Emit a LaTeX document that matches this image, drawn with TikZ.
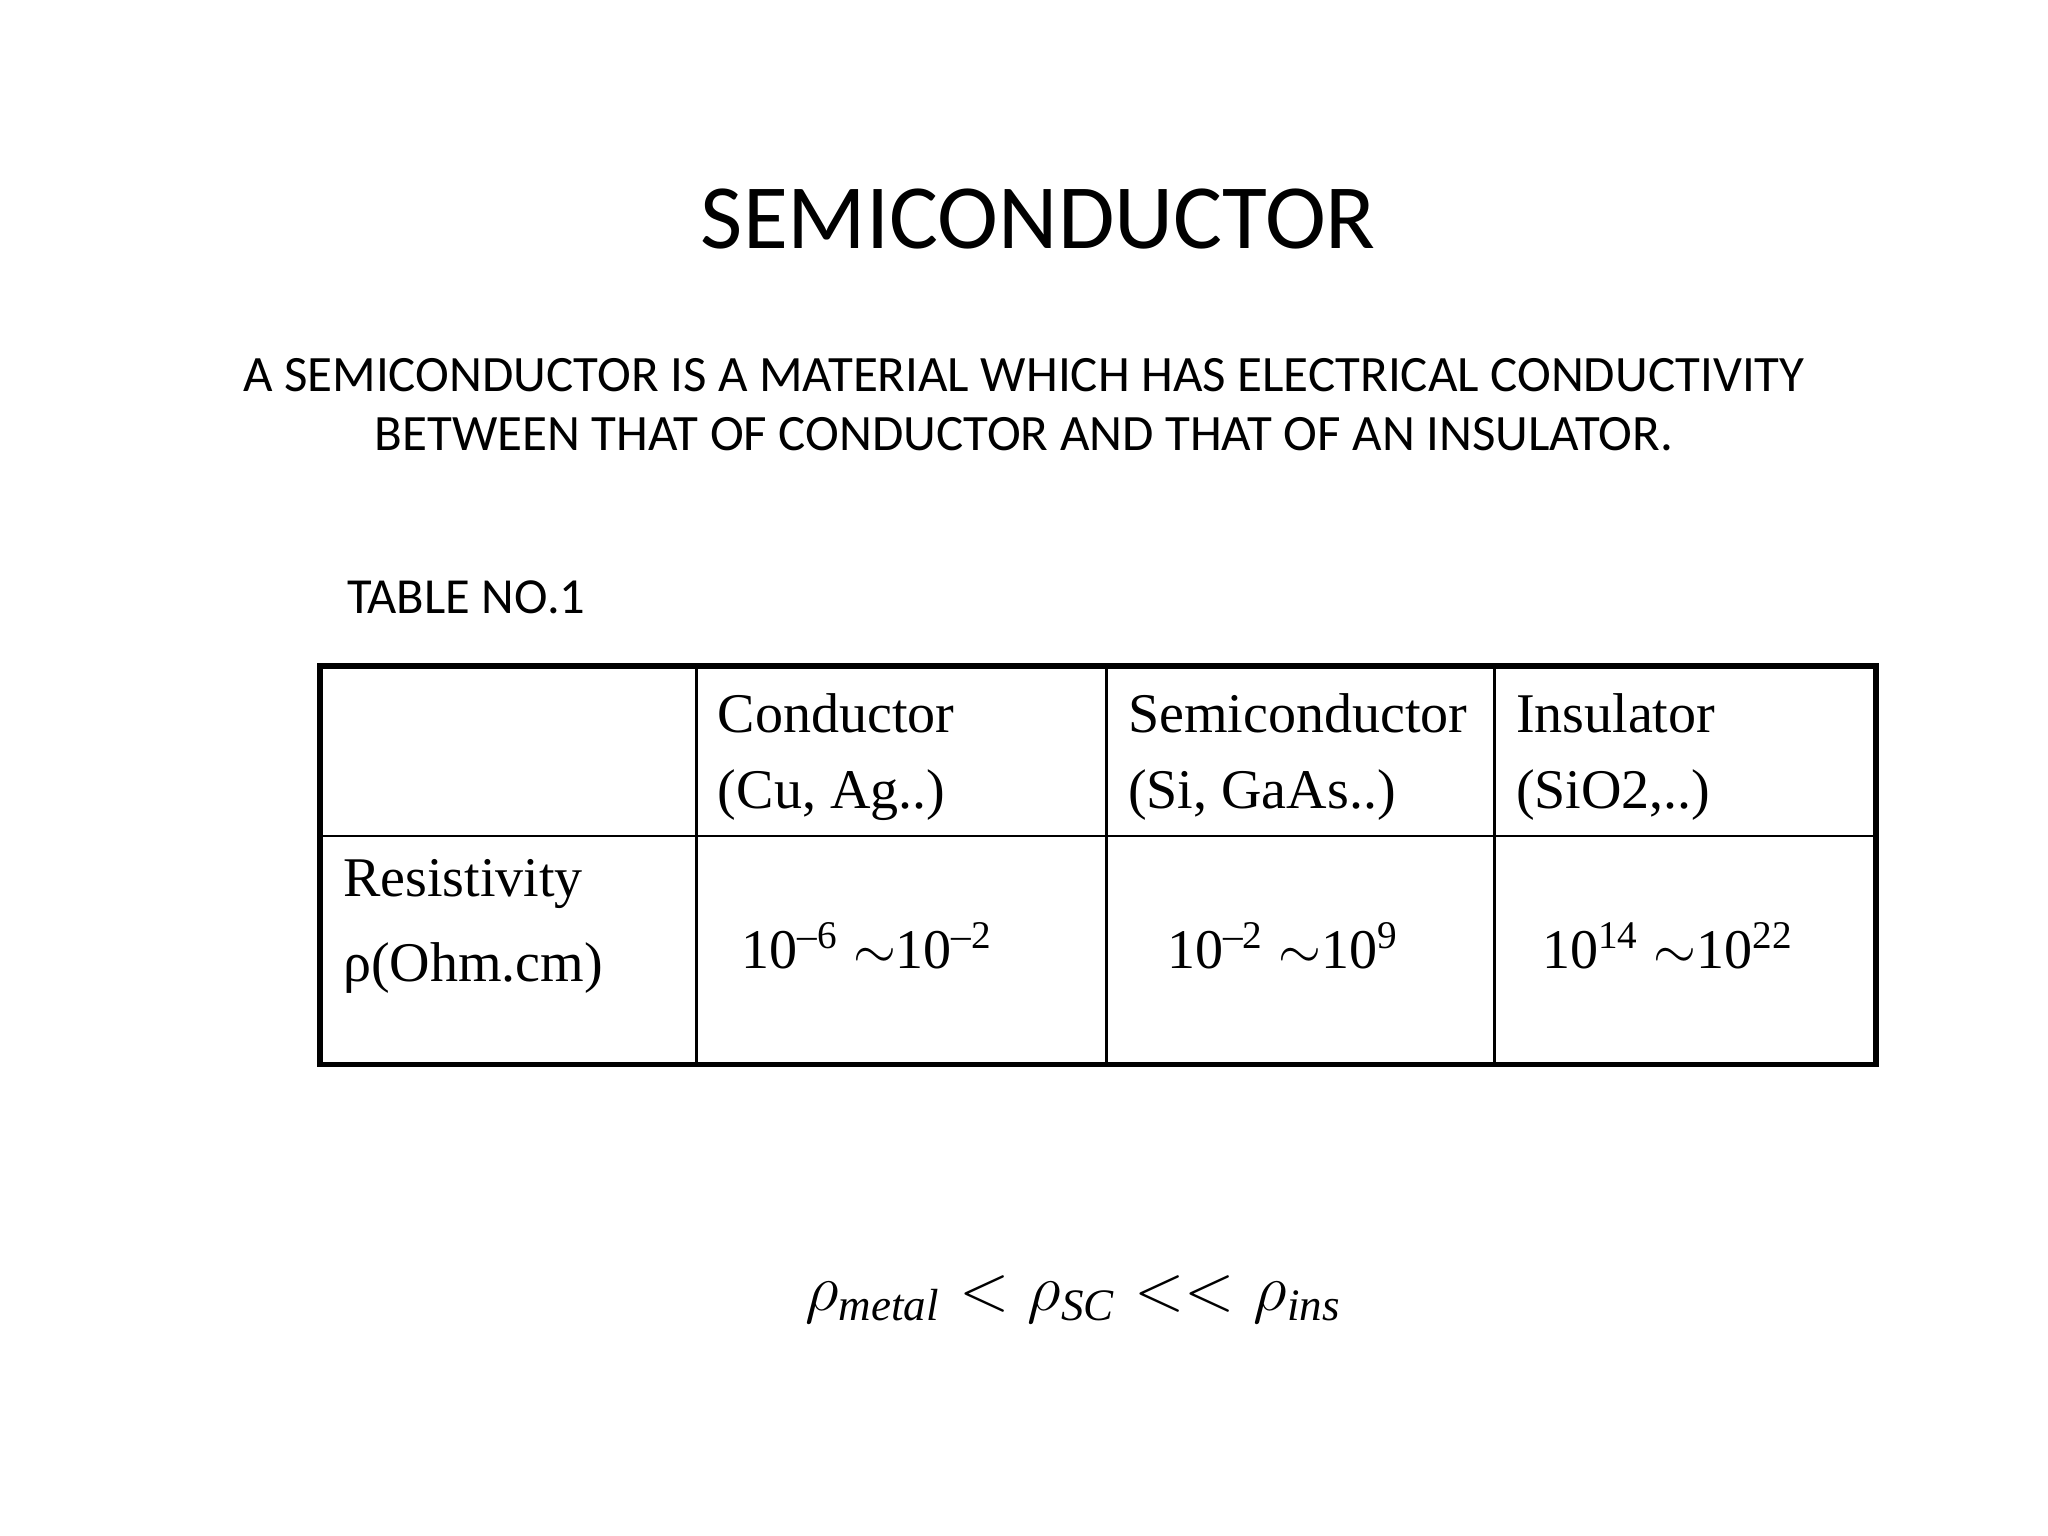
\documentclass[tikz,border=0pt]{standalone}
\usepackage{fontspec}
\setmainfont{Liberation Serif}
\newfontfamily\calfont{Carlito}
\begin{document}
\begin{tikzpicture}[x=0.01cm,y=-0.01cm,
  thin line/.style={line width=0.6pt},
  cell/.style={anchor=west,font=\fontsize{12.2}{14}\selectfont,inner sep=0pt}]
\useasboundingbox (0,0) rectangle (1568,1176);
\node[font=\calfont\fontsize{20}{24}\selectfont] (title) at (795,168) {SEMICONDUCTOR};
\node[align=center,font=\calfont\fontsize{11.1}{12.9}\selectfont] (sub) at (784,310) {A SEMICONDUCTOR IS A MATERIAL WHICH HAS ELECTRICAL CONDUCTIVITY\\ BETWEEN THAT OF CONDUCTOR AND THAT OF AN INSULATOR.};
\node[anchor=west,inner sep=0pt,font=\calfont\fontsize{11}{14}\selectfont] (tno) at (265,457) {TABLE NO.1};
\draw[thin line] (245,640) -- (1436,640);
\draw[thin line] (533,510) -- (533,815) (847,510) -- (847,815) (1144,510) -- (1144,815);
\draw[line width=1.3pt] (245,510) rectangle (1436,815);
\node[cell] (c1) at (549,546) {Conductor};
\node[cell] (c2) at (549,609) {(Cu, Ag..)};
\node[cell] (s1) at (863,546) {Semiconductor};
\node[cell] (s2) at (863,609) {(Si, GaAs..)};
\node[cell] (i1) at (1160,546) {Insulator};
\node[cell] (i2) at (1160,609) {(SiO2,..)};
\node[cell] (r1) at (262,677) {Resistivity};
\node[cell] (r2) at (262,741) {ρ(Ohm.cm)};
\node[cell] (v1) at (567,724) {10\textsuperscript{–6} $\sim$10\textsuperscript{–2}};
\node[cell] (v2) at (893,724) {10\textsuperscript{–2} $\sim$10\textsuperscript{9}};
\node[cell] (v3) at (1180,724) {10\textsuperscript{14} $\sim$10\textsuperscript{22}};
\node (f) at (822,995) {\fontsize{14}{18}\selectfont $\rho_{\mathit{metal}} < \rho_{\mathit{SC}} << \rho_{\mathit{ins}}$};
\end{tikzpicture}
\end{document}
